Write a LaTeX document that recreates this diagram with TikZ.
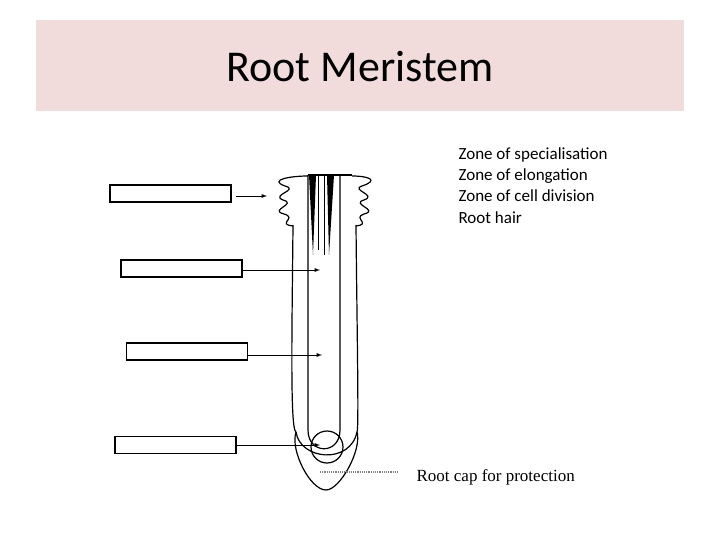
\documentclass[tikz,border=0pt]{standalone}
\usepackage{fontspec}
\setmainfont{Carlito}
\newfontfamily\serifx{Liberation Serif}
\definecolor{band}{HTML}{F2DCDB}
\begin{document}
\begin{tikzpicture}[x=1pt,y=-1pt,line width=1.2pt,
  lbl/.style={draw,line width=1.2pt,minimum width=121pt,minimum height=17pt,inner sep=0pt},
  arr/.style={-latex,line width=0.9pt},
  zone/.style={anchor=base west,font=\fontsize{17}{20}\selectfont,inner sep=0pt}]
\useasboundingbox (0,0) rectangle (720,540);
\fill[band] (36,20) rectangle (684,111);
\node (title) at (360,67) {\fontsize{44}{50}\selectfont Root Meristem};
\node[zone] (z1) at (458,160) {Zone of specialisation};
\node[zone] (z2) at (458,181) {Zone of elongation};
\node[zone] (z3) at (458,202) {Zone of cell division};
\node[zone] (z4) at (458,224) {Root hair};
% root
\draw (308,175) -- (352,175);
\draw (293,225) .. controls (292,330) and (290,430) .. (296,432);
\draw (356,225) .. controls (357,330) and (359,430) .. (357,432);
\draw (308,175) -- (308,430) .. controls (308,455) and (340,455) .. (340,430) -- (340,175);
\fill (309,175) -- (316,175) -- (313,255) -- cycle;
\fill (327,175) -- (334,175) -- (329,255) -- cycle;
\draw[line width=0.6pt] (318,175) -- (318,250);
\draw[line width=0.6pt] (324,175) -- (324,255);
% root hairs
\draw (308,176) .. controls (290,176) and (268,180) .. (285,186) .. controls (300,190) and (270,195) .. (283,200) .. controls (298,204) and (268,210) .. (284,214) .. controls (298,218) and (276,224) .. (293,226);
\draw (352,176) .. controls (368,176) and (380,180) .. (362,186) .. controls (350,190) and (378,195) .. (364,200) .. controls (350,204) and (380,210) .. (364,214) .. controls (352,218) and (372,224) .. (356,226);
% cap
\draw (296,432) .. controls (290,450) and (310,490) .. (326,490) .. controls (340,490) and (362,450) .. (357,432);
\draw (296,432) .. controls (300,460) and (350,465) .. (357,432);
\draw (327,447) circle (16);
\draw[gray,densely dotted] (320,472) -- (398,472);
\node[anchor=west,inner sep=0pt] (cap) at (416,477) {\serifx\fontsize{17}{19}\selectfont Root cap for protection};
% boxes
\node[lbl] (b1) at (170.5,193.5) {};
\node[lbl] (b2) at (181.5,268.5) {};
\node[lbl] (b3) at (187,351.5) {};
\node[lbl] (b4) at (175.5,445) {};
\coordinate (t1) at (267,196);
\coordinate (t2) at (320,270);
\coordinate (t3) at (322,355);
\coordinate (t4) at (320,445);
\draw[arr] (b1.east |- t1) ++(4,0) -- (t1);
\draw[arr] (b2.east |- t2) -- (t2);
\draw[arr] (b3.east |- t3) -- (t3);
\draw[arr] (b4.east |- t4) -- (t4);
\end{tikzpicture}
\end{document}
